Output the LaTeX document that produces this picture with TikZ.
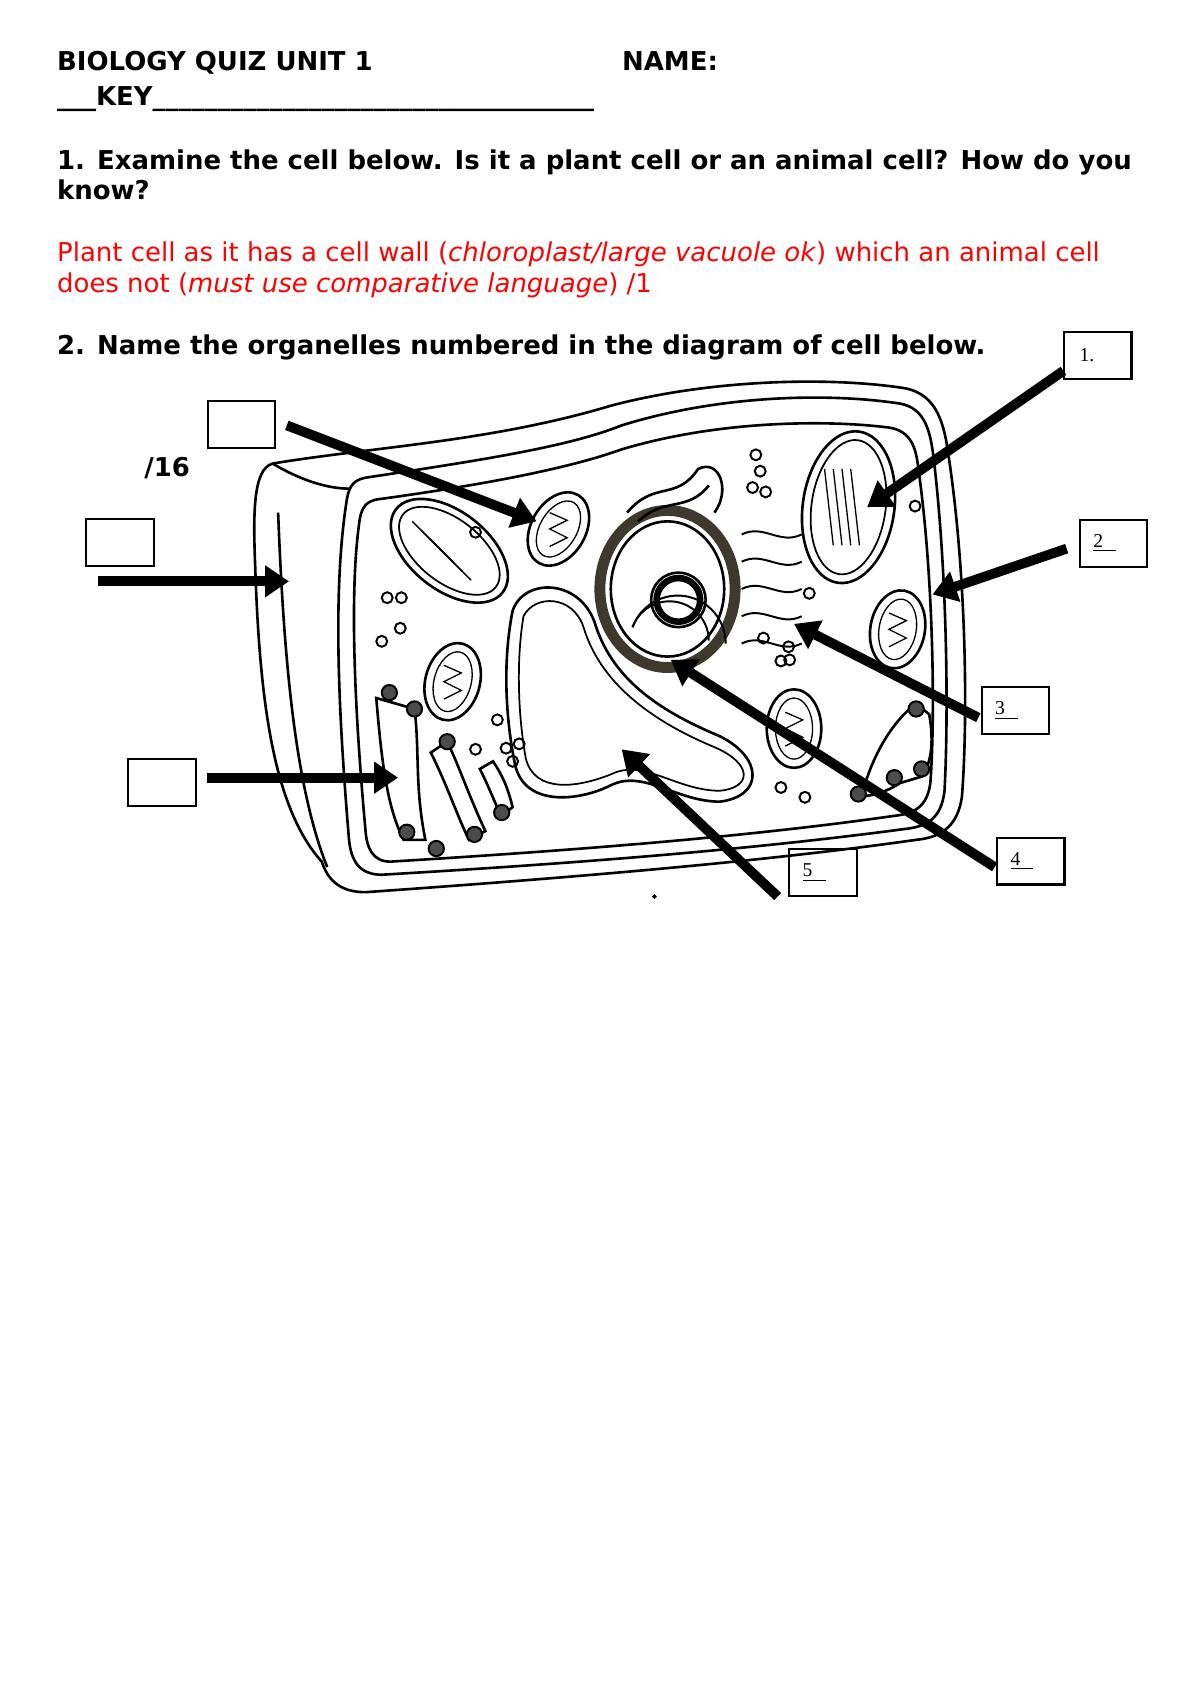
\documentclass[tikz,border=0pt]{standalone}
\usepackage{fontspec}
\setmainfont{DejaVu Sans}
\newfontfamily\boxfont{Liberation Serif}
\usetikzlibrary{arrows.meta}
\begin{document}
\begin{tikzpicture}[x=0.5pt,y=-0.5pt,
  txt/.style={anchor=base west,inner sep=0,font=\fontsize{11.9}{14}\selectfont\bfseries},
  ans/.style={anchor=base west,inner sep=0,text=red,font=\fontsize{11.9}{14}\selectfont},
  lbl/.style={draw,line width=1pt,minimum width=31pt,minimum height=21.5pt,inner sep=0,font=\boxfont\fontsize{9}{10}\selectfont},
  arr/.style={line width=4.5pt,-{Triangle[length=11pt,width=14pt]}},
  cl/.style={line width=1.2pt},
  ves/.style={line width=0.9pt}]
\useasboundingbox[fill=white] (0,0) rectangle (1100,1555);
% texts
\node[txt] (t1) at (52,65) {BIOLOGY QUIZ UNIT 1};
\node[txt] (t2) at (570,65) {NAME:};
\node[txt] (t3) at (52,97) {\_\_\_KEY\_\_\_\_\_\_\_\_\_\_\_\_\_\_\_\_\_\_\_\_\_\_\_\_\_\_\_\_\_\_\_\_\_\_};
\node[txt] (q1) at (52,155) {1. Examine the cell below. Is it a plant cell or an animal cell? How do you};
\node[txt] (q1b) at (52,183) {know?};
\node[ans] (a1) at (52,240) {Plant cell as it has a cell wall (\textit{chloroplast/large vacuole ok}) which an animal cell};
\node[ans] (a1b) at (52,268) {does not (\textit{must use comparative language}) /1};
\node[txt] (q2) at (52,325) {2. Name the organelles numbered in the diagram of cell below.};
\node[txt] (s16) at (132,437) {/16};
% cell wall outer
\draw[cl] (250,425) .. controls (340,410) and (450,405) .. (560,372) .. controls (650,348) and (760,345) .. (830,356) .. controls (860,362) and (866,390) .. (870,420) .. controls (885,520) and (888,650) .. (882,730) .. controls (878,760) and (860,768) .. (840,770) .. controls (700,790) and (520,805) .. (335,818) .. controls (310,818) and (300,805) .. (295,790) .. controls (250,740) and (238,640) .. (234,520) .. controls (232,470) and (232,430) .. (250,425) -- cycle;
\draw[cl] (335,438) .. controls (440,422) and (520,410) .. (570,390) .. controls (660,362) and (760,360) .. (825,370) .. controls (848,374) and (853,395) .. (856,420) .. controls (868,520) and (870,650) .. (866,725) .. controls (863,752) and (848,758) .. (830,760) .. controls (680,780) and (520,792) .. (350,802) .. controls (330,802) and (322,790) .. (320,770) .. controls (310,650) and (305,540) .. (318,458) .. controls (320,445) and (325,440) .. (335,438) -- cycle;
\draw[cl] (345,458) .. controls (440,445) and (520,430) .. (570,412) .. controls (660,385) and (760,385) .. (815,392) .. controls (835,395) and (840,410) .. (842,430) .. controls (855,520) and (858,650) .. (853,718) .. controls (850,740) and (838,746) .. (820,748) .. controls (680,768) and (520,780) .. (358,790) .. controls (342,790) and (336,778) .. (335,760) .. controls (325,650) and (320,540) .. (330,475) .. controls (332,465) and (336,460) .. (345,458) -- cycle;
\draw[cl] (250,425) .. controls (275,440) and (300,448) .. (320,448);
\draw[cl] (255,470) .. controls (260,600) and (270,720) .. (300,795);
% vacuole
\draw[cl] (470,560) .. controls (480,530) and (530,530) .. (545,570) .. controls (560,620) and (600,650) .. (660,675) .. controls (700,695) and (700,730) .. (660,735) .. controls (620,735) and (590,705) .. (560,720) .. controls (530,735) and (480,740) .. (472,700) .. controls (462,650) and (462,600) .. (470,560) -- cycle;
\draw[line width=0.8pt] (480,565) .. controls (490,545) and (525,545) .. (535,575) .. controls (550,625) and (595,660) .. (655,685) .. controls (690,700) and (690,722) .. (660,725) .. controls (620,725) and (590,695) .. (560,710) .. controls (530,722) and (490,728) .. (482,695) .. controls (474,650) and (474,600) .. (480,565) -- cycle;
% nucleus
\draw[line width=5pt,color=black!75!olive] (612,540) ellipse (62 and 72);
\draw[cl] (612,540) ellipse (52 and 62);
\draw[cl] (622,550) circle (25);
\draw[line width=3pt] (622,550) circle (20);
\foreach \r in {36,44}{\draw[ves] (580,575) arc (200:360:\r);}
% chloroplasts
\draw[cl,rotate around={-38:(412,505)}] (412,505) ellipse (62 and 36);
\draw[line width=0.8pt,rotate around={-38:(412,505)}] (412,505) ellipse (54 and 29);
\foreach \d in {-12,-4,4,12}{\draw[line width=0.6pt] (390+\d,490+\d) -- (420+\d,520+\d);}
\draw[cl,rotate around={-8:(778,465)}] (778,465) ellipse (42 and 70);
\draw[line width=0.8pt,rotate around={-8:(778,465)}] (778,465) ellipse (34 and 62);
\foreach \d in {-14,-6,2,10}{\draw[line width=0.6pt] (770+\d,430) -- (778+\d,500);}
% mitochondria
\foreach \x/\y/\a in {512/485/-30, 415/625/-15, 823/577/-10, 728/668/0}{
  \draw[cl,rotate around={\a:(\x,\y)}] (\x,\y) ellipse (25 and 36);
  \draw[line width=0.6pt,rotate around={\a:(\x,\y)}] (\x,\y) ellipse (17 and 28);
  \draw[line width=0.6pt] (\x-8,\y-15) -- (\x+8,\y-8) -- (\x-8,\y) -- (\x+8,\y+8) -- (\x-8,\y+16);}
% golgi / ER near nucleus
\draw[cl] (575,470) .. controls (600,440) and (620,460) .. (640,430) .. controls (660,420) and (670,450) .. (655,470);
\draw[cl] (585,478) .. controls (610,455) and (630,470) .. (650,445);
\foreach \y in {490,515,540,565,590}{\draw[ves] (680,\y) .. controls (700,\y-10) and (715,\y+10) .. (735,\y);}
% left & right ER-like clusters
\draw[cl] (345,640) .. controls (350,700) and (355,740) .. (370,770) -- (390,770) .. controls (380,720) and (385,690) .. (380,650) -- cycle;
\draw[cl] (395,690) .. controls (410,720) and (420,750) .. (430,770) -- (445,762) .. controls (430,730) and (420,700) .. (410,680) -- cycle;
\draw[cl] (440,705) .. controls (450,725) and (455,740) .. (460,748) -- (470,740) .. controls (465,720) and (460,710) .. (452,698) -- cycle;
\draw[cl] (790,730) .. controls (800,690) and (820,660) .. (840,645) -- (852,655) .. controls (858,690) and (850,705) .. (845,712) -- (825,718) .. controls (815,725) and (800,730) .. (790,730) -- cycle;
\foreach \x/\y in {357/635,380/650,410/680,373/763,435/765,460/745,400/778,840/650,845/705,820/713,787/728}{
  \fill[black!70] (\x,\y) circle (7); \draw[ves] (\x,\y) circle (7);}
% vesicles
\foreach \x/\y in {436/488,355/548,368/548,367/576,350/588,456/660,436/687,464/686,476/682,470/698,716/722,738/731,693/417,697/432,690/447,702/451,839/464,716/606,724/605,742/544,745/580,723/593,700/585}{
  \draw[ves] (\x,\y) circle (5);}
\draw[ves] (600,822) circle (1);
% label boxes
\node[lbl] (bA) at (221.5,389.5) {};
\node[lbl] (bB) at (110,497.5) {};
\node[lbl] (bC) at (148.5,717.5) {};
\node[lbl] (b1) at (1006.5,326) {\hspace*{-10pt}1.};
\node[lbl] (b2) at (1021,498) {\hspace*{-8pt}\underline{2\hspace*{6pt}}};
\node[lbl] (b3) at (931,651.5) {\hspace*{-8pt}\underline{3\hspace*{6pt}}};
\node[lbl] (b4) at (945,789.5) {\hspace*{-8pt}\underline{4\hspace*{6pt}}};
\node[lbl] (b5) at (754.5,800) {\hspace*{-8pt}\underline{5\hspace*{6pt}}};
% arrow tips
\coordinate (eA) at (492,478);
\coordinate (eB) at (265,533);
\coordinate (eC) at (365,713);
\coordinate (e1) at (795,465);
\coordinate (e2) at (855,545);
\coordinate (e3) at (728,572);
\coordinate (e4) at (615,605);
\coordinate (e5) at (570,687);
\coordinate (sA) at (263,390);
\coordinate (sB) at (90,533);
\coordinate (sC) at (190,713);
\coordinate (s1) at (975,340);
\coordinate (s2) at (978,503);
\coordinate (s3) at (897,658);
\coordinate (s4) at (912,795);
\coordinate (s5) at (713,822);
\foreach \s/\e in {sA/eA,sB/eB,sC/eC,s1/e1,s2/e2,s3/e3,s4/e4,s5/e5}{\draw[arr] (\s) -- (\e);}
\end{tikzpicture}
\end{document}
